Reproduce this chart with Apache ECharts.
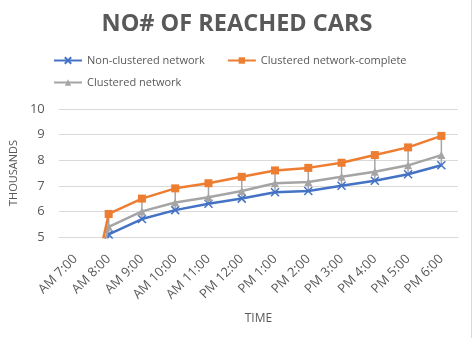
<!DOCTYPE html>
<html>
<head>
<meta charset="utf-8">
<script src="https://cdn.jsdelivr.net/npm/echarts@6/dist/echarts.min.js"></script>
<style>
  html, body { margin: 0; padding: 0; background: #fff; }
  #chart { width: 474px; height: 338px; }
</style>
</head>
<body>
<div id="chart"></div>
<script>
// Hourly time slots
const times = ['AM 7:00', 'AM 8:00', 'AM 9:00', 'AM 10:00', 'AM 11:00', 'PM 12:00',
               'PM 1:00', 'PM 2:00', 'PM 3:00', 'PM 4:00', 'PM 5:00', 'PM 6:00'];

// Reached cars, in thousands
const nonClustered      = [0, 5.1, 5.7, 6.05, 6.3, 6.5, 6.75, 6.8, 7.0, 7.2, 7.45, 7.8];
const clusteredComplete = [0, 5.9, 6.5, 6.9, 7.1, 7.35, 7.6, 7.7, 7.9, 8.2, 8.5, 8.95];
const clustered         = [0, 5.4, 6.0, 6.35, 6.55, 6.8, 7.1, 7.15, 7.35, 7.55, 7.8, 8.2];

const yTicks = { min: 5, max: 10, interval: 1 };

const BLUE = '#4472C4', ORANGE = '#ED7D31', GREY = '#A5A5A5', TEXT = '#595959';
const FONT = 'Open Sans';

// Vertical range lines between the top and bottom series (from the 8:00 slot on)
const rangeData = times.map((t, i) => [i, clusteredComplete[i], nonClustered[i]]).slice(1);

const chart = echarts.init(document.getElementById('chart'));
chart.setOption({
  animation: false,
  textStyle: { fontFamily: FONT, color: TEXT },
  title: {
    text: 'NO# OF REACHED CARS',
    left: 'center',
    top: 12,
    padding: 0,
    textStyle: { fontFamily: FONT, fontSize: 23.5, fontWeight: 'bold', color: TEXT }
  },
  legend: [
    {
      data: ['Non-clustered network', 'Clustered network-complete'],
      left: 53, top: 55, padding: 0,
      itemWidth: 28, itemHeight: 8, itemGap: 22,
      textStyle: { fontFamily: FONT, fontSize: 11, color: TEXT }
    },
    {
      data: ['Clustered network'],
      left: 53, top: 77, padding: 0,
      itemWidth: 28, itemHeight: 8,
      textStyle: { fontFamily: FONT, fontSize: 11, color: TEXT }
    }
  ],
  grid: { left: 48, right: 16, top: 109, bottom: 101, containLabel: false },
  xAxis: {
    type: 'category',
    data: times,
    boundaryGap: true,
    name: 'TIME',
    nameLocation: 'middle',
    nameGap: 76,
    nameTextStyle: { fontFamily: FONT, fontSize: 12, color: TEXT },
    axisLine: { lineStyle: { color: '#D9D9D9' } },
    axisTick: { show: false },
    axisLabel: { rotate: 45, fontSize: 13, color: TEXT, margin: 20, interval: 0 }
  },
  yAxis: {
    type: 'value',
    min: yTicks.min, max: yTicks.max, interval: yTicks.interval,
    name: 'THOUSANDS',
    nameLocation: 'middle',
    nameGap: 39,
    nameRotate: 90,
    nameTextStyle: { fontFamily: FONT, fontSize: 11, color: TEXT },
    axisLine: { show: false },
    axisTick: { show: false },
    axisLabel: { fontSize: 13, color: TEXT, margin: 14 },
    splitLine: { lineStyle: { color: '#D9D9D9', width: 1 } }
  },
  series: [
    {
      type: 'custom',
      name: 'range',
      silent: true,
      z: 1,
      data: rangeData,
      encode: { x: 0, y: [1, 2] },
      renderItem: function (params, api) {
        const top = api.coord([api.value(0), api.value(1)]);
        const bot = api.coord([api.value(0), api.value(2)]);
        return {
          type: 'line',
          shape: { x1: top[0], y1: top[1], x2: bot[0], y2: bot[1] },
          style: { stroke: GREY, lineWidth: 1.5 }
        };
      }
    },
    {
      name: 'Non-clustered network',
      type: 'line',
      data: nonClustered,
      z: 3,
      symbol: 'path://M0,0L10,10M10,0L0,10',
      symbolSize: 8,
      showAllSymbol: true,
      lineStyle: { color: BLUE, width: 2.5 },
      itemStyle: { color: 'rgba(0,0,0,0)', borderColor: BLUE, borderWidth: 1.5 }
    },
    {
      name: 'Clustered network-complete',
      type: 'line',
      data: clusteredComplete,
      z: 5,
      symbol: 'rect',
      symbolSize: 8,
      showAllSymbol: true,
      lineStyle: { color: ORANGE, width: 2.5 },
      itemStyle: { color: ORANGE, borderWidth: 0 }
    },
    {
      name: 'Clustered network',
      type: 'line',
      data: clustered,
      z: 4,
      symbol: 'triangle',
      symbolSize: 8,
      showAllSymbol: true,
      lineStyle: { color: GREY, width: 2.5 },
      itemStyle: { color: GREY, borderWidth: 0 }
    }
  ],
  graphic: [
    {
      type: 'line',
      shape: { x1: 471.5, y1: 0, x2: 471.5, y2: 338 },
      style: { stroke: '#D9D9D9', lineWidth: 1 }
    }
  ]
});
</script>
</body>
</html>
